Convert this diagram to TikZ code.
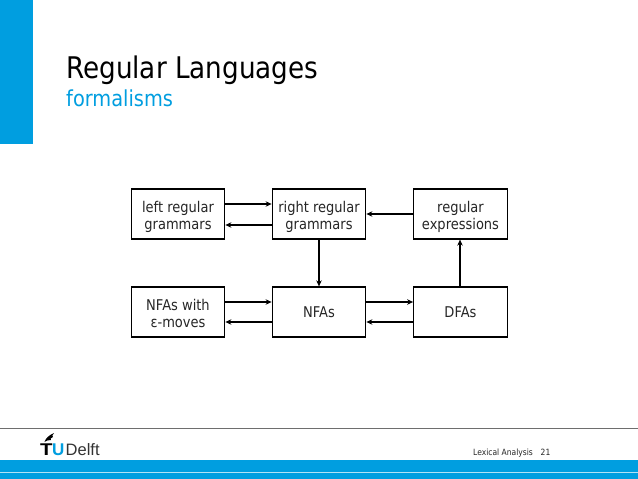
\documentclass[tikz,border=0pt]{standalone}
\usepackage{fontspec}
\setmainfont{DejaVu Sans}[FakeStretch=0.88]
\newfontfamily\logofont{Liberation Sans}
\newfontfamily\logowide{Liberation Sans}[FakeStretch=1.2]
\usetikzlibrary{arrows.meta}
\definecolor{tublue}{RGB}{0,158,224}
\definecolor{footline}{RGB}{110,110,110}
\newcommand{\twolines}[2]{\rule{0pt}{18pt}#1\\#2\rule[-4pt]{0pt}{4pt}}
\tikzset{
  x=1pt,y=-1pt,
  fbox/.style={draw=black,line width=1.3pt,minimum width=93.5pt,minimum height=50pt,inner sep=0pt,align=center,font=\fontsize{14.8}{17.8}\selectfont,text=black!85},
  conn/.style={draw=black,line width=1.2pt,-{Stealth[length=6pt,width=5.5pt]}},
  plain/.style={inner sep=0pt,anchor=base west}
}
\begin{document}
\begin{tikzpicture}
\useasboundingbox (0,0) rectangle (638,479);
\fill[white] (0,0) rectangle (638,479);
\fill[tublue] (0,0) rectangle (33,143.5);
\node[plain,font=\fontsize{29.8}{30}\selectfont] (title) at (66,78) {Regular Languages};
\node[plain,text=tublue,font=\fontsize{22}{22}\selectfont] (sub) at (66,106) {formalisms};
\node[fbox] (lrg) at (178,214) {\twolines{left regular}{grammars}};
\node[fbox] (rrg) at (319,214) {\twolines{right regular}{grammars}};
\node[fbox] (re) at (460.5,214) {\twolines{regular}{expressions}};
\node[fbox] (eps) at (178,312) {\twolines{NFAs with}{ε-moves}};
\node[fbox] (nfa) at (319,312) {NFAs};
\node[fbox] (dfa) at (460.5,312) {DFAs};
\draw[conn] ([yshift=10pt]lrg.east) -- ([yshift=10pt]rrg.west);
\draw[conn] ([yshift=-11pt]rrg.west) -- ([yshift=-11pt]lrg.east);
\draw[conn] (re.west) -- (rrg.east);
\draw[conn] (rrg.south) -- (nfa.north);
\draw[conn] ([yshift=10pt]eps.east) -- ([yshift=10pt]nfa.west);
\draw[conn] ([yshift=-10pt]nfa.west) -- ([yshift=-10pt]eps.east);
\draw[conn] ([yshift=10pt]nfa.east) -- ([yshift=10pt]dfa.west);
\draw[conn] ([yshift=-10pt]dfa.west) -- ([yshift=-10pt]nfa.east);
\draw[conn] ([xshift=-0.5pt]dfa.north) -- ([xshift=-0.5pt]re.south);
% footer
\draw[footline,line width=0.9pt] (0,428.5) -- (638,428.5);
\fill[tublue] (0,460) rectangle (638,479);
\draw[white!70!tublue,line width=0.8pt] (0,472) -- (638,472);
\node[plain,font=\fontsize{8.6}{10}\selectfont,text=black!85] (foot) at (473,455.5) {Lexical Analysis};
\node[plain,font=\fontsize{8.6}{10}\selectfont,text=black!85] (page) at (540.5,455.5) {21};
% logo
\node[plain,font=\logowide\bfseries\fontsize{17}{17}\selectfont] (t) at (40,455.5) {T};
\node[plain,text=tublue,font=\logofont\bfseries\fontsize{17}{17}\selectfont] (u) at (52,455.5) {U};
\node[plain,text=black!80,font=\logofont\fontsize{16.5}{17}\selectfont] (delft) at (65.5,455.5) {Delft};
\fill[black] (44.5,442) .. controls (45.5,438.5) and (48.5,435.5) .. (54,433) .. controls (52,435) and (52,436.5) .. (53,437) .. controls (50.5,438) and (50,439) .. (51,440) .. controls (48.5,440) and (46.5,440.5) .. (44.5,442) -- cycle;
\end{tikzpicture}
\end{document}
